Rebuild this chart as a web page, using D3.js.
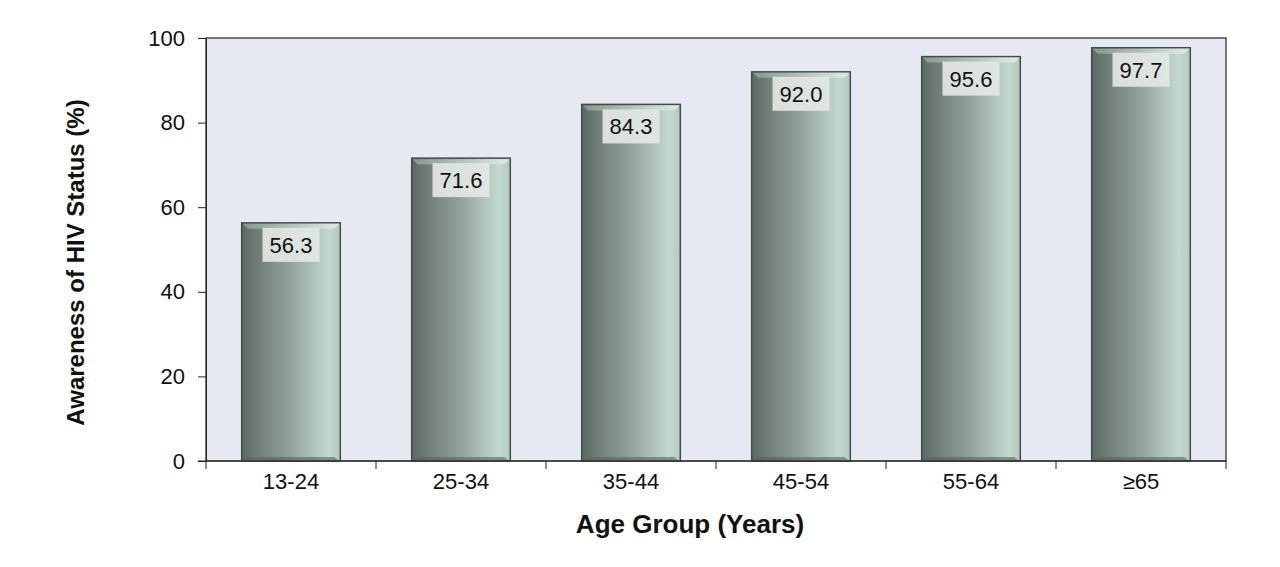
<!DOCTYPE html>
<html>
<head>
<meta charset="utf-8">
<script src="https://cdn.jsdelivr.net/npm/d3@7.9.0/dist/d3.min.js"></script>
<style>
  body { margin: 0; background: #fff; }
  text { font-family: "Liberation Sans", Arial, sans-serif; }
</style>
</head>
<body>
<svg id="chart" width="1280" height="567"></svg>
<script>
const ageGroups = ["13-24", "25-34", "35-44", "45-54", "55-64", "≥65"];
const awareness = [56.3, 71.6, 84.3, 92.0, 95.6, 97.7];
const yTicks = [0, 20, 40, 60, 80, 100];

const margin = { top: 38, right: 54, bottom: 106, left: 206 };
const width = 1280 - margin.left - margin.right;
const height = 567 - margin.top - margin.bottom;

const svg = d3.select("#chart");
const defs = svg.append("defs");

// bar body: dark on left, pale on right
let grad = defs.append("linearGradient").attr("id", "barGrad")
  .attr("x1", "0%").attr("x2", "100%").attr("y1", "0%").attr("y2", "0%");
grad.append("stop").attr("offset", "0%").attr("stop-color", "#5c6863");
grad.append("stop").attr("offset", "15%").attr("stop-color", "#6f7c76");
grad.append("stop").attr("offset", "50%").attr("stop-color", "#93a39b");
grad.append("stop").attr("offset", "88%").attr("stop-color", "#c3d8cf");
grad.append("stop").attr("offset", "100%").attr("stop-color", "#b4c9c0");

let topGrad = defs.append("linearGradient").attr("id", "topGrad")
  .attr("x1", "0%").attr("x2", "100%");
topGrad.append("stop").attr("offset", "0%").attr("stop-color", "#8e9b92");
topGrad.append("stop").attr("offset", "100%").attr("stop-color", "#e2eee9");

const g = svg.append("g").attr("transform", `translate(${margin.left},${margin.top})`);

const x = d3.scaleBand().domain(ageGroups).range([0, width]).paddingInner(0.42).paddingOuter(0.21);
const y = d3.scaleLinear().domain([0, 100]).range([height, 0]);

// plot background
g.append("rect").attr("width", width).attr("height", height)
  .attr("fill", "#e6e9f2").attr("stroke", "#222").attr("stroke-width", 1.2);

// bars
const bars = g.selectAll(".bar").data(ageGroups).join("g").attr("class", "bar");
bars.append("rect")
  .attr("x", d => x(d))
  .attr("y", (d, i) => y(awareness[i]))
  .attr("width", x.bandwidth())
  .attr("height", (d, i) => height - y(awareness[i]))
  .attr("fill", "url(#barGrad)")
  .attr("stroke", "#414d47").attr("stroke-width", 1.5);

// bevel at top
bars.append("path")
  .attr("d", (d, i) => {
    let x0 = x(d) + 1, x1 = x(d) + x.bandwidth() - 1, t = y(awareness[i]) + 1;
    return `M${x0},${t} L${x1},${t} L${x1 - 5},${t + 5} L${x0 + 5},${t + 5} Z`;
  })
  .attr("fill", "url(#topGrad)").attr("opacity", 0.9);
// bevel at bottom
bars.append("path")
  .attr("d", d => {
    let x0 = x(d) + 1, x1 = x(d) + x.bandwidth() - 1, b = y(0);
    return `M${x0},${b} L${x1},${b} L${x1 - 5},${b - 4} L${x0 + 5},${b - 4} Z`;
  })
  .attr("fill", "#56625c").attr("opacity", 0.6);

// value labels
bars.append("rect")
  .attr("x", d => x(d) + x.bandwidth() / 2 - 28.5)
  .attr("y", (d, i) => y(awareness[i]) + 5)
  .attr("width", 57).attr("height", 34)
  .attr("fill", "#e3e7e4").attr("opacity", 0.92);
bars.append("text")
  .attr("x", d => x(d) + x.bandwidth() / 2)
  .attr("y", (d, i) => y(awareness[i]) + 30)
  .attr("text-anchor", "middle")
  .attr("font-size", 22)
  .attr("fill", "#111")
  .text((d, i) => awareness[i].toFixed(1));

// y axis
const yAxis = g.append("g").call(d3.axisLeft(y).tickValues(yTicks).tickSize(8).tickPadding(13));
yAxis.select(".domain").attr("stroke", "#222");
yAxis.selectAll(".tick line").attr("stroke", "#222");
yAxis.selectAll("text").attr("font-size", 22).attr("fill", "#111");

// x axis: ticks between categories
const xAxis = g.append("g").attr("transform", `translate(0,${height})`);
xAxis.append("line").attr("x1", -8).attr("x2", width).attr("stroke", "#222").attr("stroke-width", 1.2);
xAxis.selectAll(".xt").data(d3.range(ageGroups.length + 1)).join("line")
  .attr("class", "xt")
  .attr("x1", i => i * x.step()).attr("x2", i => i * x.step())
  .attr("y1", 0).attr("y2", 8).attr("stroke", "#222");
xAxis.selectAll(".xl").data(ageGroups).join("text")
  .attr("class", "xl")
  .attr("x", d => x(d) + x.bandwidth() / 2)
  .attr("y", 28)
  .attr("text-anchor", "middle")
  .attr("font-size", 22).attr("fill", "#111")
  .text(d => d);

// axis titles
svg.append("text")
  .attr("x", margin.left + width / 2 - 26).attr("y", 533)
  .attr("text-anchor", "middle")
  .attr("font-size", 26).attr("font-weight", "bold").attr("fill", "#111")
  .text("Age Group (Years)");
svg.append("text")
  .attr("transform", `translate(84,${margin.top + height / 2 + 13}) rotate(-90)`)
  .attr("text-anchor", "middle")
  .attr("font-size", 24).attr("font-weight", "bold").attr("fill", "#111")
  .text("Awareness of HIV Status (%)");
</script>
</body>
</html>
